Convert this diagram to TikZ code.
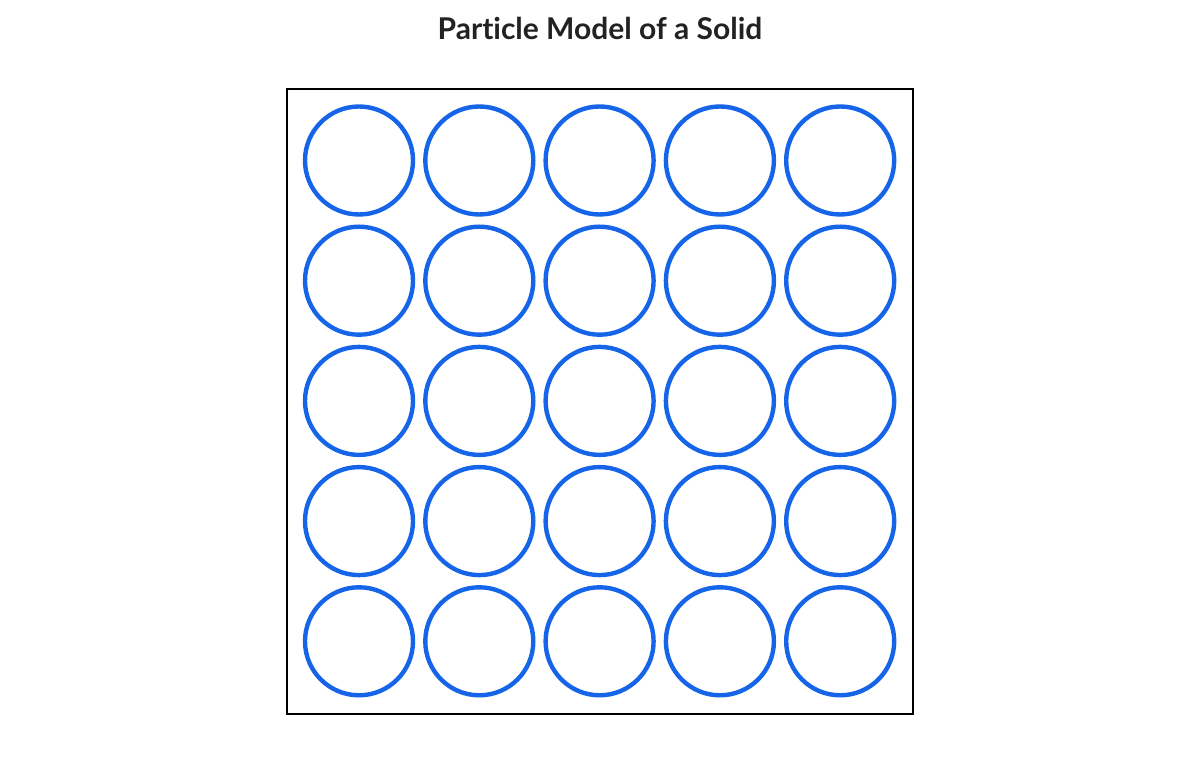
\documentclass[tikz,border=0pt]{standalone}
\usepackage{fontspec}
\setmainfont{Lato}[Ligatures=NoCommon]
\usepackage{xcolor}
\usetikzlibrary{positioning}
\definecolor{pblue}{RGB}{22,101,232}
\definecolor{tgray}{RGB}{34,34,34}
\tikzstyle{particle}=[circle,draw=pblue,line width=4.4pt,inner sep=0pt,minimum size=108pt]
\tikzstyle{container}=[draw=black,line width=2pt,inner sep=0pt,minimum width=626pt,minimum height=625pt]
\tikzstyle{title}=[text=tgray,font=\fontsize{30}{36}\selectfont\bfseries,anchor=base]

\begin{document}
\begin{tikzpicture}[x=1pt,y=1pt]
	\useasboundingbox (0,0) rectangle (1200,763);
	\node[title] (heading) at (600,723) {Particle Model of a Solid};
	\node[container] (box) at (600,361.5) {};
	% five rows of five particles
	\foreach \r in {1,...,5}
	  \foreach \c in {1,...,5}
	    \node[particle] (p-\r-\c) at ({359+120.3*(\c-1)},{602.5-120.2*(\r-1)}) {};
\end{tikzpicture}
\end{document}
